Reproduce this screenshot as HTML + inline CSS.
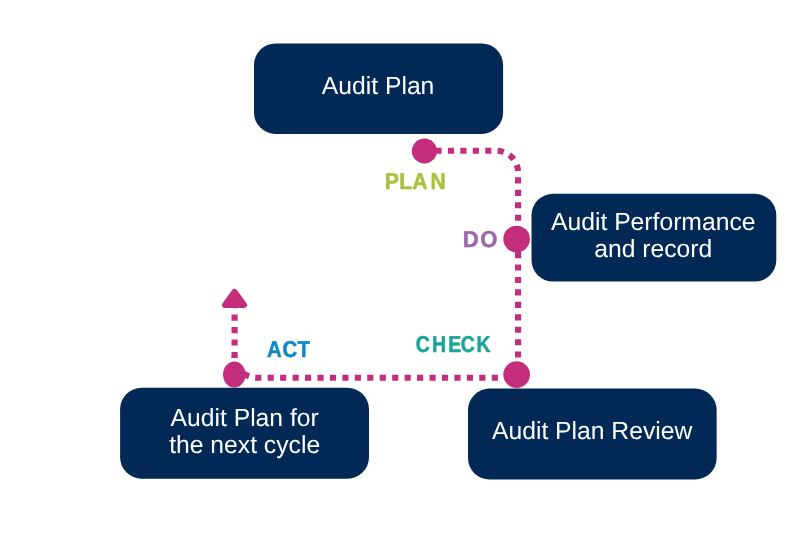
<!DOCTYPE html>
<html><head><meta charset="utf-8">
<style>
html,body{margin:0;padding:0;background:#fff;}
body{width:800px;height:533px;position:relative;overflow:hidden;font-family:"Liberation Sans",sans-serif;}
svg{position:absolute;left:0;top:0;display:block;will-change:transform;}
.bt{font-family:"Liberation Sans",sans-serif;font-size:24.7px;fill:#fff;text-anchor:middle;text-rendering:geometricPrecision;}
.lb{font-family:"Liberation Sans",sans-serif;font-weight:bold;font-size:22.9px;stroke-width:0.5px;stroke-linejoin:round;text-rendering:geometricPrecision;}
</style></head><body>
<svg width="800" height="533" viewBox="0 0 800 533">
<g fill="none" stroke="#c32e7c" stroke-width="6.15" stroke-dasharray="6.15 6.3">
<path d="M435.45 150.75 H496.3 A21.8 21.8 0 0 1 518.1 172.55 V357.6"/>
<path d="M497.9 377.7 H256.4 A21.8 21.8 0 0 1 234.6 355.9"/>
<path d="M234.6 358.05 V302"/>
</g>
<g fill="#c32e7c">
<circle cx="424.4" cy="151" r="12.55"/>
<circle cx="516.6" cy="239" r="13.3"/>
<circle cx="516.65" cy="374.6" r="13.35"/>
<ellipse cx="234.3" cy="374.5" rx="11.25" ry="13.1"/>
<path d="M234.6 291.9 L244.15 304.95 H225 Z" stroke="#c32e7c" stroke-width="6" stroke-linejoin="round"/>
</g>
<g fill="#022855">
<rect x="254" y="43.4" width="249.1" height="90.5" rx="21.5"/>
<rect x="531.5" y="193.75" width="244.8" height="87.8" rx="21.5"/>
<rect x="120.1" y="387.8" width="248.9" height="90.85" rx="21.5"/>
<rect x="468" y="388.6" width="248.65" height="90.85" rx="21.5"/>
</g>
<text class="bt" x="378.1" y="93.55">Audit Plan</text>
<text class="bt" x="653.25" y="230">Audit Performance</text>
<text class="bt" x="653.25" y="257">and record</text>
<text class="bt" x="244.65" y="425.6">Audit Plan for</text>
<text class="bt" x="244.65" y="452.5">the next cycle</text>
<text class="bt" x="592.15" y="439">Audit Plan Review</text>
<text class="lb" transform="scale(0.9244 1)" x="416.32 431.83 446.02 465.78" y="189" fill="#a8c23c" stroke="#a8c23c">PLAN</text>
<text class="lb" transform="scale(0.9654 1)" x="479.33 497.4" y="246.75" fill="#9c68a8" stroke="#9c68a8">DO</text>
<text class="lb" transform="scale(0.8522 1)" x="487.91 506.97 525.93 540.8 559.1" y="351.9" fill="#17a596" stroke="#17a596">CHECK</text>
<text class="lb" transform="scale(0.8923 1)" x="299.11 316.5 333.4" y="356.7" fill="#0d88c6" stroke="#0d88c6">ACT</text>
</svg>
</body></html>
